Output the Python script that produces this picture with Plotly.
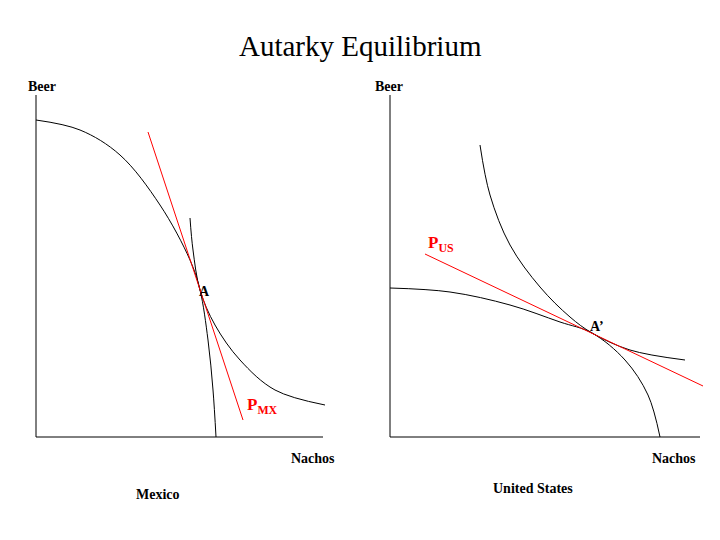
import plotly.graph_objects as go

# picture-space coordinates (x right, y down)
mx_ppf_x = [36, 80, 120, 160, 190, 200, 208, 213, 216]
mx_ppf_y = [120, 130, 155, 205, 260, 290, 340, 390, 437]
mx_ic_x = [190, 193, 200, 215, 240, 275, 325]
mx_ic_y = [218, 250, 290, 325, 360, 390, 405]
mx_price_x = [148, 243]
mx_price_y = [132, 420]

us_ppf_x = [390, 450, 510, 560, 592, 625, 648, 660]
us_ppf_y = [288, 292, 305, 322, 333, 360, 395, 437]
us_ic_x = [480, 490, 510, 540, 570, 592, 630, 685]
us_ic_y = [145, 195, 245, 287, 317, 333, 350, 360]
us_price_x = [425, 703]
us_price_y = [254, 386]

mx_axis_x = [36, 36, 323]
us_axis_x = [390, 390, 700]
axis_y = [95, 437, 437]

fig = go.Figure()
black = dict(color="black", width=1, shape="spline", smoothing=1.0)
for xs, ys in [(mx_axis_x, axis_y), (us_axis_x, axis_y)]:
    fig.add_trace(go.Scatter(x=xs, y=ys, mode="lines", line=dict(color="black", width=1)))
for xs, ys in [(mx_ppf_x, mx_ppf_y), (mx_ic_x, mx_ic_y), (us_ppf_x, us_ppf_y), (us_ic_x, us_ic_y)]:
    fig.add_trace(go.Scatter(x=xs, y=ys, mode="lines", line=black))
for xs, ys in [(mx_price_x, mx_price_y), (us_price_x, us_price_y)]:
    fig.add_trace(go.Scatter(x=xs, y=ys, mode="lines", line=dict(color="red", width=1)))

serif = "Liberation Serif"
labels = [
    ("Beer", 42, 86, 14, "black"), ("Nachos", 313, 458, 14, "black"),
    ("Mexico", 158, 494, 14, "black"), ("A", 204, 291, 14, "black"),
    ("P<sub>MX</sub>", 262, 406, 17, "red"),
    ("Beer", 389, 86, 14, "black"), ("Nachos", 674, 458, 14, "black"),
    ("United States", 533, 488, 14, "black"), ("A’", 597, 326, 14, "black"),
    ("P<sub>US</sub>", 441, 244, 17, "red"),
]
for text, x, y, size, color in labels:
    fig.add_annotation(x=x, y=y, text=f"<b>{text}</b>", showarrow=False,
                       font=dict(family=serif, size=size, color=color))
fig.add_annotation(x=360, y=46, text="Autarky Equilibrium", showarrow=False,
                   font=dict(family=serif, size=29, color="black"))

fig.update_layout(width=720, height=540, margin=dict(l=0, r=0, t=0, b=0),
                  plot_bgcolor="white", paper_bgcolor="white", showlegend=False)
# page body margin offsets the figure by 8px; compensate in the ranges
fig.update_xaxes(range=[8, 728], visible=False)
fig.update_yaxes(range=[548, 8], visible=False)
fig.write_html("out.html")
